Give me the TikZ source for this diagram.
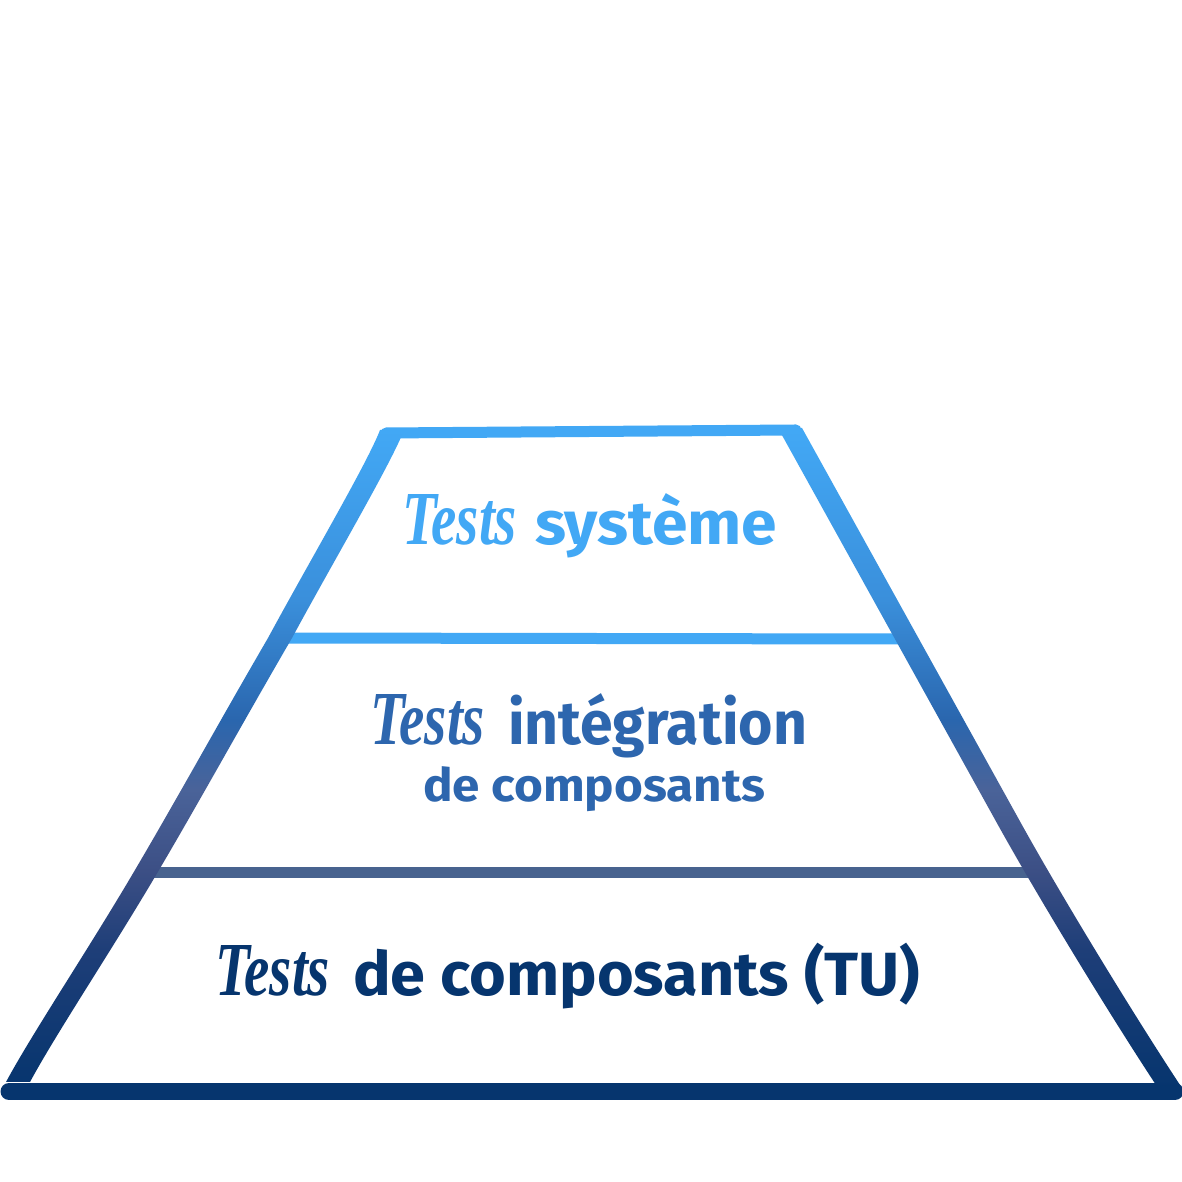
\documentclass[tikz,border=0pt]{standalone}
\usepackage{fontspec}
\usepackage{graphicx}
\newfontfamily\lblfont{Fira Sans}
\newfontfamily\brushfont{Liberation Serif}
\definecolor{lightb}{HTML}{42A8F5}
\definecolor{midb}{HTML}{2D66AE}
\definecolor{navyb}{HTML}{06356E}
\definecolor{divtwo}{HTML}{48638F}
\definecolor{gA}{HTML}{42A8F5}
\definecolor{gB}{HTML}{3A8FDB}
\definecolor{gC}{HTML}{2A66AE}
\definecolor{gD}{HTML}{4A6399}
\definecolor{gE}{HTML}{3C4F85}
\definecolor{gF}{HTML}{1E3E78}
\definecolor{gG}{HTML}{06356E}
\pgfdeclareverticalshading{pyrshade}{100bp}{%
  color(0bp)=(gG); color(26.55bp)=(gG); color(36.41bp)=(gF);
  color(42.04bp)=(gE); color(47.68bp)=(gD); color(52.61bp)=(gC);
  color(61.06bp)=(gB); color(73.03bp)=(gA); color(100bp)=(gA)}
\begin{document}
\begin{tikzpicture}[x=1pt,y=1pt,
  word/.style={inner sep=0pt, outer sep=0pt, anchor=base west,
    font=\lblfont\bfseries\fontsize{61}{61}\selectfont},
  smallword/.style={word, font=\lblfont\bfseries\fontsize{46}{46}\selectfont},
  scriptword/.style={inner sep=0pt, outer sep=0pt, anchor=base west,
    font=\brushfont\bfseries\itshape\fontsize{72}{72}\selectfont},
  edge/.style={line cap=round},
  gradside/.style={path picture={
    \shade[shading=pyrshade] (0,70) rectangle (1182,780);
  }}]
\useasboundingbox (0,0) rectangle (1182,1182);
\fill[white] (0,0) rectangle (1182,1182);

% dividers
\coordinate (d1l) at (280,544);
\coordinate (d1r) at (902,543);
\coordinate (d2l) at (146,309);
\coordinate (d2r) at (1036,309);
\draw[edge, lightb, line width=11] (d1l) -- (d1r);
\draw[edge, divtwo, line width=11] (d2l) -- (d2r);

% top and bottom edges
\coordinate (tl) at (386,749);
\coordinate (tr) at (796,752);
\coordinate (bl) at (9,90.5);
\coordinate (br) at (1175,90.5);
\draw[edge, lightb, line width=11] (tl) -- (tr);
\draw[edge, navyb, line width=17] (bl) -- (br);

% left side (centre line shifted by -12 / +12)
\path[gradside]
  (380,752) .. controls (368,720) and (308,618) .. (268,544)
            .. controls (218,458) and (178,385) .. (135,312)
            .. controls (88,232) and (33,150) .. (6,100)
  -- (30,100) .. controls (57,150) and (112,232) .. (159,312)
            .. controls (202,385) and (242,458) .. (292,544)
            .. controls (332,618) and (392,720) .. (404,752) -- cycle;

% right side
\path[gradside]
  (778,754) -- (998,357) .. controls (1038,285) and (1108,170) .. (1156,97)
  -- (1180,97) .. controls (1132,170) and (1062,285) .. (1022,357)
  -- (802,754) -- cycle;

% texts
\node[scriptword, text=lightb] (t1) at (402,637) {\resizebox{115pt}{50pt}{Tests}};
\node[word, text=lightb] (w1) at (535,637) {\resizebox{242pt}{\height}{système}};

\node[scriptword, text=midb] (t2) at (370,437) {\resizebox{115pt}{50pt}{Tests}};
\node[word, text=midb] (w2) at (508,437) {\resizebox{299pt}{\height}{intégration}};
\node[smallword, text=midb] (w3) at (423,380) {\resizebox{342pt}{\height}{de composants}};

\node[scriptword, text=navyb] (t3) at (215,186) {\resizebox{115pt}{50pt}{Tests}};
\node[word, text=navyb] (w4) at (353,186) {\resizebox{567pt}{\height}{de composants (TU)}};
\end{tikzpicture}
\end{document}
